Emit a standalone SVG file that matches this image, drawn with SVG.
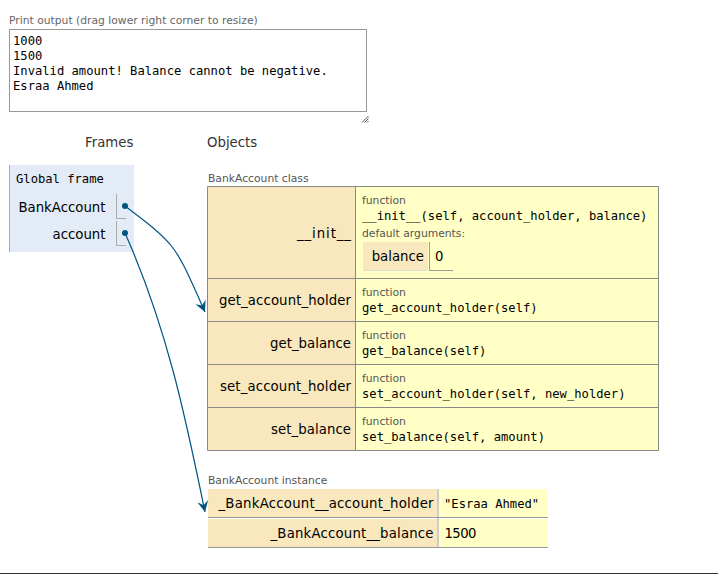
<svg xmlns="http://www.w3.org/2000/svg" width="718" height="574" viewBox="0 0 718 574">
<style>
text{font-family:"DejaVu Sans",Verdana,sans-serif}
.m{font-family:"DejaVu Sans Mono","Liberation Mono",monospace;font-size:12.17px;fill:#000}
.h{font-size:13.3px;fill:#333}
.s{font-size:10.75px;fill:#555}
.l{font-size:13.3px;fill:#000;text-anchor:end}
.v{font-size:13.2px;fill:#000}
.k{fill:#f9e8bd}.y{fill:#ffffc6}
.g{stroke:#888;stroke-width:1;fill:none}
.c{stroke:#005583;stroke-width:1.2;fill:none;marker-end:url(#a)}
.d{fill:#005583}
</style>
<defs><marker id="a" markerUnits="userSpaceOnUse" markerWidth="12" markerHeight="14" refX="11" refY="6" orient="auto"><path d="M0 0.500L11 6L0 11.500L4 6Z" fill="#005583"/></marker></defs>
<rect width="718" height="574" fill="#fff"/>
<g id="print-output">
<text x="9" y="24" class="s" style="fill:#666">Print output (drag lower right corner to resize)</text>
<rect x="9.500" y="29.500" width="357" height="82" fill="#fff" stroke="#999"/>
<text x="13" y="45" class="m">1000</text>
<text x="13" y="60" class="m">1500</text>
<text x="13" y="75" class="m">Invalid amount! Balance cannot be negative.</text>
<text x="13" y="90" class="m">Esraa Ahmed</text>
<path d="M362 122.500L368.500 116M364.500 122.500L368.500 118.500M367 122.500L368.500 121" stroke="#555" stroke-width="1" fill="none"/>
</g>
<text x="85" y="147" class="h">Frames</text>
<text x="207" y="147" class="h">Objects</text>
<g id="global-frame">
<rect x="9" y="165" width="125" height="87" fill="#e2ebf6"/>
<rect x="9" y="165" width="1" height="87" fill="#aaa"/>
<text x="16" y="183" class="m">Global frame</text>
<text x="105.500" y="212" class="l">BankAccount</text>
<text x="105.500" y="239" class="l">account</text>
<path d="M116.500 194V218.500H126M116.500 221V245.500H126" stroke="#aaa" fill="none"/>
<circle class="d" cx="125" cy="206" r="3"/>
<circle class="d" cx="125" cy="233" r="3"/>
</g>
<g id="class-object">
<text x="208" y="182" class="s">BankAccount class</text>
<rect class="k" x="207.500" y="186.500" width="148" height="264"/>
<rect class="y" x="355.500" y="186.500" width="303" height="264"/>
<path class="g" d="M207.500 186.500H658.500V450.500H207.500ZM355.500 186.500V450.500M207.500 278.500H658.500M207.500 321.500H658.500M207.500 364.500H658.500M207.500 407.500H658.500"/>
</g>
<g id="m-init">
<text x="351" y="238" class="l" textLength="54">__init__</text>
<text x="362" y="204" class="s">function</text>
<text x="362" y="220" class="m">__init__(self, account_holder, balance)</text>
<text x="362" y="237" class="s">default arguments:</text>
<rect class="k" x="363" y="242" width="65" height="28"/>
<path d="M363 270.500H428" stroke="#ddd" fill="none"/>
<path d="M429.500 242V270.500H453" stroke="#999" fill="none"/>
<text x="424" y="261" class="l">balance</text>
<text x="435" y="261" class="v">0</text>
</g>
<g id="m-get-holder">
<text x="351" y="305" class="l" textLength="132">get_account_holder</text>
<text x="362" y="296" class="s">function</text>
<text x="362" y="312" class="m">get_account_holder(self)</text>
</g>
<g id="m-get-balance">
<text x="351" y="348" class="l" textLength="81">get_balance</text>
<text x="362" y="339" class="s">function</text>
<text x="362" y="355" class="m">get_balance(self)</text>
</g>
<g id="m-set-holder">
<text x="351" y="391" class="l" textLength="131">set_account_holder</text>
<text x="362" y="382" class="s">function</text>
<text x="362" y="398" class="m">set_account_holder(self, new_holder)</text>
</g>
<g id="m-set-balance">
<text x="351" y="434" class="l" textLength="80">set_balance</text>
<text x="362" y="425" class="s">function</text>
<text x="362" y="441" class="m">set_balance(self, amount)</text>
</g>
<g id="instance-object">
<text x="208" y="484" class="s">BankAccount instance</text>
<rect class="k" x="208" y="489" width="229" height="28"/>
<rect class="y" x="439" y="489" width="109" height="28"/>
<rect class="k" x="208" y="519" width="229" height="28"/>
<rect class="y" x="439" y="519" width="109" height="28"/>
<path d="M208 517.500H548M208 547.500H548M438 489V548" stroke="#999" fill="none"/>
<text x="433.500" y="508" class="l" textLength="215">_BankAccount__account_holder</text>
<text x="433.500" y="538" class="l" textLength="163">_BankAccount__balance</text>
<text x="444" y="508" class="m">"Esraa Ahmed"</text>
<text x="444.500" y="538" class="v" textLength="32">1500</text>
</g>
<g id="connectors">
<path class="c" d="M125 206C178 246 175 245 205 312"/>
<path class="c" d="M125 233C168 330 186 420 205 512"/>
</g>
<rect id="page-rule" x="0" y="573" width="718" height="1" fill="#333"/>
</svg>
